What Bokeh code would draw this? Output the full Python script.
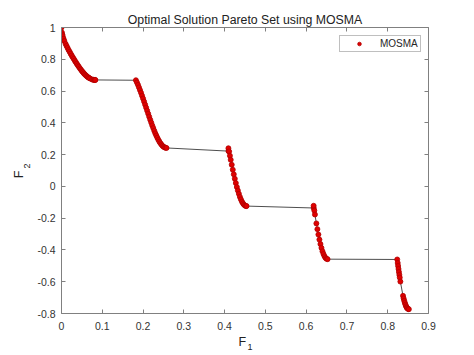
import math
from bokeh.plotting import figure
from bokeh.models import Label, LinearAxis, FixedTicker, Range1d, Legend, LegendItem
from bokeh.embed import file_html
from bokeh.resources import INLINE

# ---- data (Pareto set, F1 vs F2) ----
SEG1_F1 = [0.0, 0.001, 0.002, 0.003, 0.005, 0.007, 0.01, 0.0125, 0.015, 0.0175, 0.02, 0.0225,
           0.025, 0.0275, 0.03, 0.0325, 0.035, 0.0375, 0.04, 0.0425, 0.045, 0.0475, 0.05,
           0.0525, 0.055, 0.0575, 0.06, 0.0625, 0.065, 0.0675, 0.07, 0.075, 0.078, 0.08, 0.082, 0.083]
SEG1_F2 = [1.0, 0.968, 0.955, 0.945, 0.929, 0.915, 0.897, 0.884, 0.871, 0.858, 0.847, 0.835,
           0.824, 0.813, 0.803, 0.792, 0.782, 0.772, 0.762, 0.753, 0.743, 0.735, 0.726,
           0.719, 0.711, 0.704, 0.698, 0.692, 0.687, 0.683, 0.679, 0.673, 0.671, 0.670, 0.670, 0.670]

SEG2_F1 = [0.1825, 0.185, 0.1875, 0.19, 0.1925, 0.195, 0.1975, 0.2, 0.2025, 0.205, 0.2075, 0.21,
           0.2125, 0.215, 0.2175, 0.22, 0.2225, 0.225, 0.2275, 0.23, 0.2325, 0.235, 0.2375, 0.24,
           0.2425, 0.245, 0.2475, 0.25, 0.2525, 0.255, 0.2575]
SEG2_F2 = [0.668, 0.654, 0.639, 0.623, 0.606, 0.589, 0.571, 0.553, 0.534, 0.515, 0.496, 0.477,
           0.458, 0.439, 0.420, 0.402, 0.384, 0.367, 0.350, 0.334, 0.320, 0.306, 0.293, 0.282,
           0.272, 0.263, 0.256, 0.250, 0.246, 0.243, 0.242]

SEG3_F1 = [0.4095, 0.4093, 0.411, 0.413, 0.415, 0.4175, 0.42, 0.4225, 0.425, 0.4275, 0.43, 0.4325,
           0.435, 0.4375, 0.44, 0.4425, 0.445, 0.4475, 0.45, 0.4525, 0.4538]
SEG3_F2 = [0.222, 0.240, 0.220, 0.193, 0.167, 0.136, 0.105, 0.076, 0.048, 0.021, -0.004, -0.026,
           -0.047, -0.066, -0.082, -0.096, -0.107, -0.115, -0.121, -0.124, -0.124]

SEG4_F1 = [0.6185, 0.6183, 0.62, 0.6215, 0.625, 0.6275, 0.63, 0.6325, 0.635, 0.6375, 0.64, 0.6425,
           0.645, 0.6475, 0.65, 0.6525]
SEG4_F2 = [-0.136, -0.122, -0.152, -0.177, -0.233, -0.269, -0.303, -0.335, -0.363, -0.387, -0.409,
           -0.426, -0.440, -0.450, -0.456, -0.458]

SEG5_F1 = [0.8233, 0.8245, 0.8255, 0.8265, 0.8275, 0.8285, 0.8295, 0.831, 0.8375, 0.839, 0.8405,
           0.842, 0.8435, 0.845, 0.8465, 0.848, 0.85, 0.8518]
SEG5_F2 = [-0.460, -0.482, -0.501, -0.520, -0.539, -0.557, -0.574, -0.599, -0.689, -0.705, -0.720,
           -0.733, -0.744, -0.754, -0.762, -0.767, -0.772, -0.773]

F1 = SEG1_F1 + SEG2_F1 + SEG3_F1 + SEG4_F1 + SEG5_F1
F2 = SEG1_F2 + SEG2_F2 + SEG3_F2 + SEG4_F2 + SEG5_F2

X_TICKS = [0, 0.1, 0.2, 0.3, 0.4, 0.5, 0.6, 0.7, 0.8, 0.9]
X_LABELS = ["0", "0.1", "0.2", "0.3", "0.4", "0.5", "0.6", "0.7", "0.8", "0.9"]
Y_TICKS = [-0.8, -0.6, -0.4, -0.2, 0, 0.2, 0.4, 0.6, 0.8, 1]
Y_LABELS = ["-0.8", "-0.6", "-0.4", "-0.2", "0", "0.2", "0.4", "0.6", "0.8", "1"]

TITLE = "Optimal Solution Pareto Set using MOSMA"
SERIES = "MOSMA"

FONT = "Liberation Sans"
AX_COLOR = "#808080"
TXT_COLOR = "#333333"

p = figure(width=474, height=355, x_range=Range1d(0, 0.9), y_range=Range1d(-0.8, 1),
           output_backend="svg", toolbar_location=None,
           min_border_left=61, min_border_right=46, min_border_top=27, min_border_bottom=42)
p.xgrid.visible = False
p.ygrid.visible = False
p.outline_line_color = None
p.background_fill_color = "white"
p.border_fill_color = "white"

def style_axis(ax, ticks, labels, show_labels, standoff=6):
    ax.ticker = FixedTicker(ticks=ticks)
    ax.axis_line_color = AX_COLOR
    ax.axis_line_width = 1
    ax.major_tick_line_color = AX_COLOR
    ax.major_tick_in = 4
    ax.major_tick_out = 0
    ax.minor_tick_line_color = None
    ax.major_label_text_font = FONT
    ax.major_label_text_color = TXT_COLOR
    if show_labels:
        ax.major_label_overrides = {t: l for t, l in zip(ticks, labels)}
        ax.major_label_text_font_size = "10.5px"
        ax.major_label_standoff = standoff
    else:
        ax.major_label_overrides = {t: "" for t in ticks}
        ax.major_label_standoff = 0

style_axis(p.xaxis[0], X_TICKS, X_LABELS, True, standoff=8)
style_axis(p.yaxis[0], Y_TICKS, Y_LABELS, True, standoff=6)
top = LinearAxis()
style_axis(top, X_TICKS, X_LABELS, False)
p.add_layout(top, "above")
right = LinearAxis()
style_axis(right, Y_TICKS, Y_LABELS, False)
p.add_layout(right, "right")

p.line(F1, F2, line_color="black", line_width=0.7)
r = p.scatter(F1, F2, size=5, fill_color="#e00000", line_color="#b00000", line_width=0.8)

legend = Legend(items=[LegendItem(label=SERIES, renderers=[r])], location=(278, 261),
                padding=2, margin=0, spacing=0, glyph_width=34, glyph_height=9, label_height=11,
                label_standoff=4, label_text_font=FONT, label_text_font_size="10px",
                label_text_color="#262626", border_line_color=AX_COLOR,
                background_fill_color="white", background_fill_alpha=1)
p.add_layout(legend)

TXT = dict(text_font=FONT, text_color="#222222", text_baseline="alphabetic")
# title
p.add_layout(Label(x=0.45, y=1, y_offset=8, text=TITLE, text_align="center",
                   text_font_size="12.3px", **TXT), "above")
# x label F_1
p.add_layout(Label(x=0.434, y=-0.8, y_offset=-28, text="F", text_align="left",
                   text_font_size="12.5px", **TXT), "below")
p.add_layout(Label(x=0.434, y=-0.8, x_offset=9, y_offset=-33, text="1", text_align="left",
                   text_font_size="9px", **TXT), "below")
# y label F_2
p.add_layout(Label(x=0, y=0.1, x_offset=-43, y_offset=-4, text="F", angle=math.pi / 2,
                   text_align="center", text_font_size="12.5px", **TXT), "left")
p.add_layout(Label(x=0, y=0.1, x_offset=-35, y_offset=2, text="2", angle=math.pi / 2,
                   text_align="left", text_font_size="9px", **TXT), "left")

open("out.html", "w").write(file_html(p, INLINE))
